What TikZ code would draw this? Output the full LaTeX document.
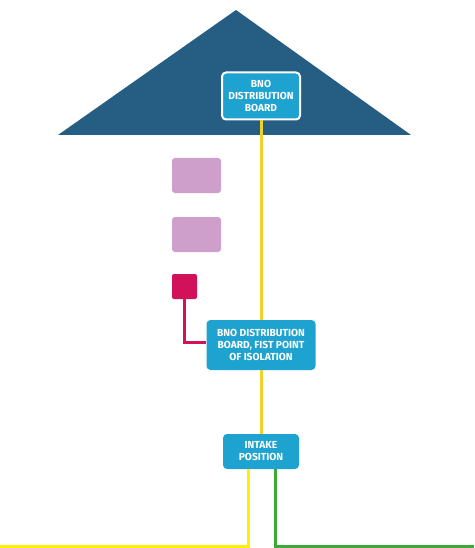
\documentclass[tikz,border=0pt]{standalone}
\usepackage{fontspec}
\setmainfont{Fira Sans}
\usetikzlibrary{positioning}
\definecolor{roofblue}{HTML}{255E82}
\definecolor{boxblue}{HTML}{1EA2D0}
\definecolor{lilac}{HTML}{CF9FCB}
\definecolor{crimson}{HTML}{D1115A}
\definecolor{gold}{HTML}{F4D02A}
\definecolor{brightyellow}{HTML}{FFEF00}
\definecolor{earthgreen}{HTML}{3BA935}
\tikzset{
  every board/.style={fill=boxblue, rounded corners=4pt, text=white, align=center,
    font=\fontsize{10.2}{12}\selectfont\bfseries, inner sep=0pt},
  socket/.style={fill=lilac, rounded corners=3pt, minimum width=49pt, minimum height=35pt},
  isolator/.style={fill=crimson, rounded corners=2pt, minimum size=25pt},
  cable/.style={line width=3pt},
}
\begin{document}
\begin{tikzpicture}[x=1pt, y=-1pt]
  \useasboundingbox (0,0) rectangle (474,548);
  % house outline
  \fill[roofblue] (58,135) -- (236,10) -- (411,135) -- cycle;
  % boards
  \node [every board, draw=white, line width=2pt, minimum width=78pt, minimum height=47pt]
    (top) at (261,96) {BNO\\DISTRIBUTION\\BOARD};
  \node [every board, minimum width=109pt, minimum height=50pt]
    (mid) at (261,345) {BNO DISTRIBUTION\\BOARD, FIST POINT\\OF ISOLATION};
  \node [every board, minimum width=76pt, minimum height=35pt]
    (intake) at (261,451.5) {INTAKE\\POSITION};
  % sockets and isolator
  \foreach \y [count=\i] in {175.5,234.5}
    \node [socket] (socket-\i) at (196.5,\y) {};
  \node [isolator] (iso) at (184.5,286.5) {};
  \coordinate (leftEnd) at (0,546);
  \coordinate (rightEnd) at (474,546);
  % cables
  \draw [cable, gold] (top.south) -- (mid.north);
  \draw [cable, gold] (mid.south) -- (intake.north);
  \draw [cable, crimson] (iso.south) |- ([yshift=3pt]mid.west);
  \draw [cable, brightyellow] ([xshift=-13pt]intake.south) |- (leftEnd);
  \draw [cable, earthgreen] ([xshift=14pt]intake.south) |- (rightEnd);
\end{tikzpicture}
\end{document}
